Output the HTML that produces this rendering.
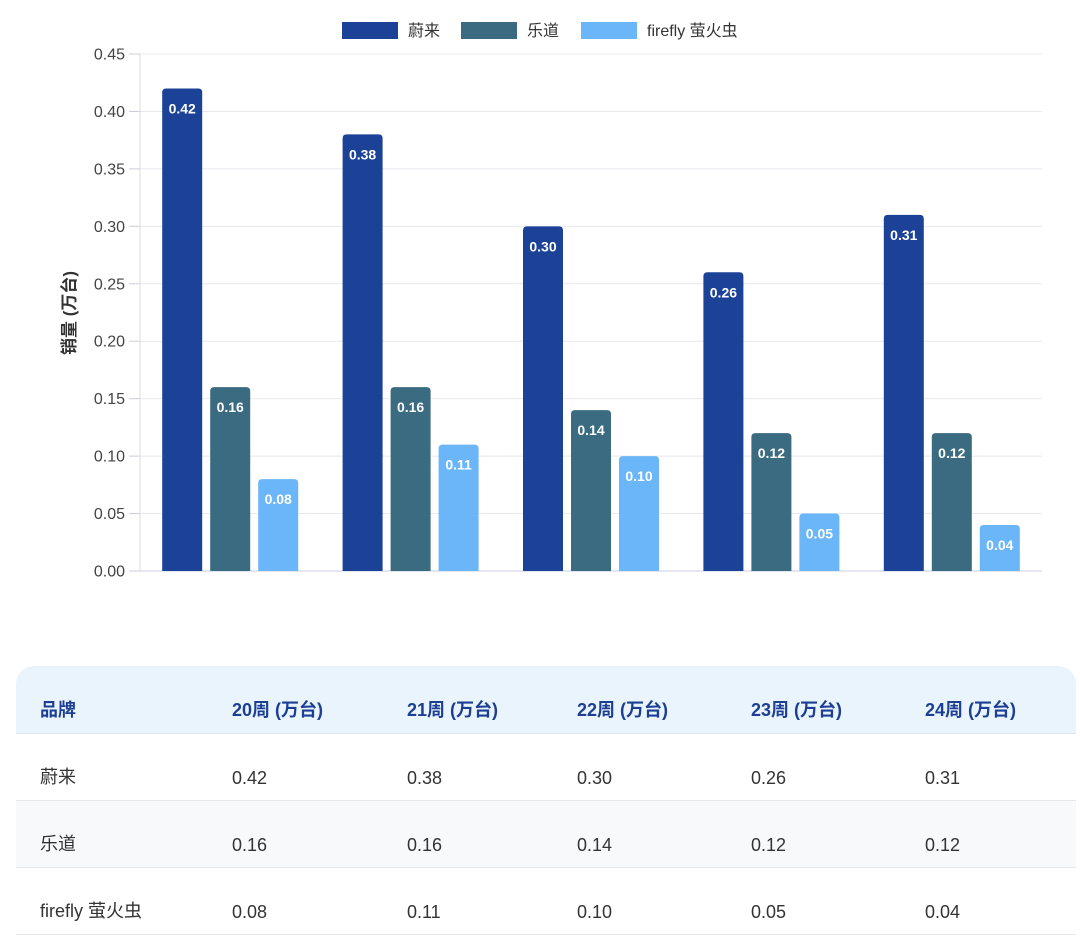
<!DOCTYPE html>
<html><head><meta charset="utf-8">
<style>
body{margin:0;width:1080px;height:941px;background:#fff;font-family:"Liberation Sans","Noto Sans CJK SC",sans-serif;overflow:hidden;position:relative}
svg{position:absolute;left:0;top:0}
table{position:absolute;left:16px;top:666px;width:1060px;border-collapse:collapse;font-size:18px;color:#333}
th,td{height:67px;box-sizing:border-box;vertical-align:bottom;padding:0 0 11px 0}
th{background:#eaf4fc;color:#1c3f94;font-weight:bold;text-align:left;border-bottom:1px solid #e0e6ee}
th:first-child{border-top-left-radius:18px}
th:last-child{border-top-right-radius:18px}
td{border-bottom:1px solid #e4e7eb}
tr.alt td{background:#f8f9fb}
th:first-child,td:first-child{padding-left:24px}
</style></head><body>
<svg id="chart" width="1080" height="640"></svg>
<table>
<colgroup><col style="width:216px"><col style="width:175px"><col style="width:170px"><col style="width:174px"><col style="width:174px"><col></colgroup>
<tr><th>品牌</th><th>20周 (万台)</th><th>21周 (万台)</th><th>22周 (万台)</th><th>23周 (万台)</th><th>24周 (万台)</th></tr>
<tr><td>蔚来</td><td>0.42</td><td>0.38</td><td>0.30</td><td>0.26</td><td>0.31</td></tr>
<tr class="alt"><td>乐道</td><td>0.16</td><td>0.16</td><td>0.14</td><td>0.12</td><td>0.12</td></tr>
<tr><td>firefly 萤火虫</td><td>0.08</td><td>0.11</td><td>0.10</td><td>0.05</td><td>0.04</td></tr>
</table>
<script>
const categories=["20周","21周","22周","23周","24周"];
const seriesNames=["蔚来","乐道","firefly 萤火虫"];
const nio=[0.42,0.38,0.30,0.26,0.31];
const ledao=[0.16,0.16,0.14,0.12,0.12];
const firefly=[0.08,0.11,0.10,0.05,0.04];
const yTicks=[0,0.05,0.10,0.15,0.20,0.25,0.30,0.35,0.40,0.45];
const colors=["#1c4298","#3a6b80","#6ab6f8"];
const svg=document.getElementById('chart');
const NS='http://www.w3.org/2000/svg';
const X0=140,X1=1042,Y0=571,Y1=54,YMAX=0.45;
const y=v=>Y0-(v/YMAX)*(Y0-Y1);
const bw=(X1-X0)/categories.length;
const xc=i=>X0+bw*(i+0.5);
function mk(t,a){const e=document.createElementNS(NS,t);for(const k in a)e.setAttribute(k,a[k]);svg.appendChild(e);return e;}
yTicks.forEach(v=>{
 const g=mk('line',{x1:X0,x2:X1,y1:y(v),y2:y(v),stroke:v===0?'#ccd':'#e8e8ee','stroke-width':1});
 
 
 const tk=mk('line',{x1:129,x2:X0,y1:y(v),y2:y(v),stroke:'#ccd'});
 
 
 const t=mk('text',{x:125,y:y(v)+5.5,'text-anchor':'end','font-size':16,fill:'#444'});
 t.textContent=v.toFixed(2);
 
 
});
const ax=mk('line',{x1:X0,x2:X0,y1:Y1,y2:Y0,stroke:'#ddd'});


const yt=mk('text',{x:0,y:0,transform:'translate(75,313) rotate(-90)','text-anchor':'middle','font-size':17,'font-weight':'bold',fill:'#333'});
yt.textContent='销量 (万台)';


const series=[nio,ledao,firefly];
const BW=40,GAP=8;
series.forEach((s,si)=>{
 s.forEach((v,i)=>{
  const x=xc(i)+(si-1)*(BW+GAP)-BW/2;
  const top=y(v),r=4;
  const p=mk('path',{d:`M${x},${Y0}V${top+r}Q${x},${top} ${x+r},${top}H${x+BW-r}Q${x+BW},${top} ${x+BW},${top+r}V${Y0}Z`,fill:colors[si]});
  
  
  const t=mk('text',{x:x+BW/2,y:top+25,'text-anchor':'middle','font-size':14,'font-weight':'bold',fill:'#fff'});
  t.textContent=v.toFixed(2);
  
  
 });
});
const legX=[342,461,581];
seriesNames.forEach((n,i)=>{
 const r=mk('rect',{x:legX[i],y:22,width:56,height:17,fill:colors[i]});
 
 
 const t=mk('text',{x:legX[i]+66,y:36,'font-size':16,fill:'#333'});
 t.textContent=n;
 
 
});
</script>
</body></html>
